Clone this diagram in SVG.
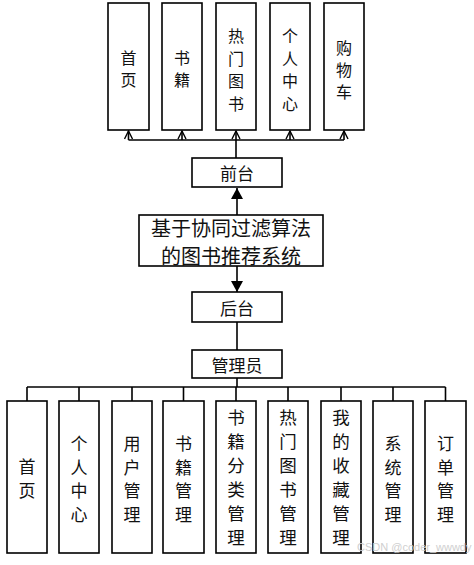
<svg xmlns="http://www.w3.org/2000/svg" width="474" height="565" viewBox="0 0 474 565">
<defs>
<style>
.b{fill:#fff;stroke:#000;stroke-width:1.6}
.t{font-family:"Noto Sans CJK SC","Noto Sans",sans-serif;fill:#111;text-anchor:middle;dominant-baseline:central}
.s{font-size:16px}
.m{font-size:17px}
.l{font-size:17px}
.k{font-size:17.5px}
.x{font-size:20px}
.c{fill:none;stroke:#000;stroke-width:1.6}
.wm{font-family:"Liberation Sans",sans-serif;font-size:11px;fill:#cfcfcf}
</style>
<marker id="open" markerWidth="10" markerHeight="10" refX="9" refY="5" orient="auto" markerUnits="userSpaceOnUse">
<path d="M1,1 L9,5 L1,9" fill="none" stroke="#000" stroke-width="1.4"/>
</marker>
<marker id="fill" markerWidth="12" markerHeight="12" refX="11" refY="6" orient="auto" markerUnits="userSpaceOnUse">
<path d="M0,0 L11,6 L0,12 Z" fill="#000"/>
</marker>
</defs>
<rect width="474" height="565" fill="#fff"/>
<g id="connectors">
<path class="c" d="M128.5,140 H344"/>
<path class="c" d="M128.5,140 V131" marker-end="url(#open)"/>
<path class="c" d="M182,140 V131" marker-end="url(#open)"/>
<path class="c" d="M236,158 V131" marker-end="url(#open)"/>
<path class="c" d="M290,140 V131" marker-end="url(#open)"/>
<path class="c" d="M344,140 V131" marker-end="url(#open)"/>
<path class="c" d="M237,215 V188" marker-end="url(#fill)"/>
<path class="c" d="M237,266 V292" marker-end="url(#fill)"/>
<path class="c" d="M237,322 V350"/>
<path class="c" d="M237,378 V387"/>
<path class="c" d="M27,387 H445.5"/>
<path class="c" d="M27,387 V401 M79,387 V401 M132,387 V401 M183.5,387 V401 M236,387 V401 M288,387 V401 M341,387 V401 M393,387 V401 M445.5,387 V401"/>
</g>
<g id="top-home"><rect class="b" x="108" y="3" width="41" height="127"/>
<text class="t s"><tspan x="128.5" y="57">首</tspan><tspan x="128.5" y="79">页</tspan></text></g>
<g id="top-books"><rect class="b" x="162" y="3" width="40" height="127"/>
<text class="t s"><tspan x="182" y="57">书</tspan><tspan x="182" y="79">籍</tspan></text></g>
<g id="top-hot"><rect class="b" x="216" y="3" width="40" height="127"/>
<text class="t s"><tspan x="236" y="35">热</tspan><tspan x="236" y="57.5">门</tspan><tspan x="236" y="80">图</tspan><tspan x="236" y="102.5">书</tspan></text></g>
<g id="top-personal"><rect class="b" x="270" y="3" width="40" height="127"/>
<text class="t s"><tspan x="290" y="35">个</tspan><tspan x="290" y="57.5">人</tspan><tspan x="290" y="80">中</tspan><tspan x="290" y="102.5">心</tspan></text></g>
<g id="top-cart"><rect class="b" x="324" y="3" width="40" height="127"/>
<text class="t s"><tspan x="344" y="46.5">购</tspan><tspan x="344" y="68.5">物</tspan><tspan x="344" y="90.5">车</tspan></text></g>
<g id="frontend"><rect class="b" x="192" y="158" width="90" height="29"/>
<text class="t m" x="237" y="172.5">前台</text></g>
<g id="system"><rect class="b" x="139" y="215" width="184" height="51"/>
<text class="t x"><tspan x="231" y="227.3">基于协同过滤算法</tspan><tspan x="231" y="254.8">的图书推荐系统</tspan></text></g>
<g id="backend"><rect class="b" x="192" y="292" width="90" height="30"/>
<text class="t m" x="237" y="307">后台</text></g>
<g id="admin"><rect class="b" x="192" y="350" width="90" height="28"/>
<text class="t m" x="237" y="364">管理员</text></g>
<g id="b-home"><rect class="b" x="7" y="401" width="40" height="152"/>
<text class="t l"><tspan x="27" y="465">首</tspan><tspan x="27" y="488.5">页</tspan></text></g>
<g id="b-personal"><rect class="b" x="59" y="401" width="40" height="152"/>
<text class="t l"><tspan x="79" y="442">个</tspan><tspan x="79" y="465.5">人</tspan><tspan x="79" y="489">中</tspan><tspan x="79" y="512.5">心</tspan></text></g>
<g id="b-user"><rect class="b" x="112" y="401" width="40" height="152"/>
<text class="t l"><tspan x="132" y="442">用</tspan><tspan x="132" y="465.5">户</tspan><tspan x="132" y="489">管</tspan><tspan x="132" y="512.5">理</tspan></text></g>
<g id="b-books"><rect class="b" x="163" y="401" width="41" height="152"/>
<text class="t l"><tspan x="183.5" y="442">书</tspan><tspan x="183.5" y="465.5">籍</tspan><tspan x="183.5" y="489">管</tspan><tspan x="183.5" y="512.5">理</tspan></text></g>
<g id="b-category"><rect class="b" x="216" y="401" width="40" height="152"/>
<text class="t k"><tspan x="236" y="416">书</tspan><tspan x="236" y="440">籍</tspan><tspan x="236" y="464">分</tspan><tspan x="236" y="488">类</tspan><tspan x="236" y="512">管</tspan><tspan x="236" y="536">理</tspan></text></g>
<g id="b-hot"><rect class="b" x="268" y="401" width="40" height="152"/>
<text class="t k"><tspan x="288" y="416">热</tspan><tspan x="288" y="440">门</tspan><tspan x="288" y="464">图</tspan><tspan x="288" y="488">书</tspan><tspan x="288" y="512">管</tspan><tspan x="288" y="536">理</tspan></text></g>
<g id="b-fav"><rect class="b" x="321" y="401" width="40" height="152"/>
<text class="t k"><tspan x="341" y="416">我</tspan><tspan x="341" y="440">的</tspan><tspan x="341" y="464">收</tspan><tspan x="341" y="488">藏</tspan><tspan x="341" y="512">管</tspan><tspan x="341" y="536">理</tspan></text></g>
<g id="b-sys"><rect class="b" x="373" y="401" width="40" height="152"/>
<text class="t l"><tspan x="393" y="442">系</tspan><tspan x="393" y="465.5">统</tspan><tspan x="393" y="489">管</tspan><tspan x="393" y="512.5">理</tspan></text></g>
<g id="b-order"><rect class="b" x="425" y="401" width="41" height="152"/>
<text class="t l"><tspan x="445.5" y="442">订</tspan><tspan x="445.5" y="465.5">单</tspan><tspan x="445.5" y="489">管</tspan><tspan x="445.5" y="512.5">理</tspan></text></g>
<text class="wm" x="357" y="551">CSDN @coder_wwwdy</text>
</svg>
